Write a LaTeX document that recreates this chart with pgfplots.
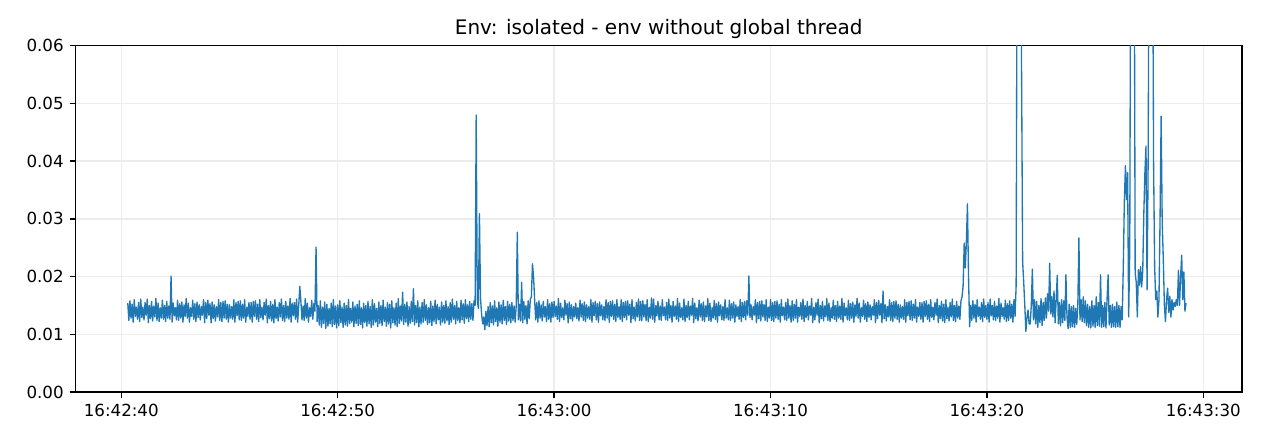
\documentclass[border=0pt]{standalone}
\usepackage{pgfplots}
\pgfplotsset{compat=1.18}
\usepackage{fontspec}
\setmainfont{DejaVu Sans}
\definecolor{mplblue}{RGB}{31,119,180}

\begin{document}
\begin{tikzpicture}
% page = 1262x442 px at 0.6pt per px
\path[use as bounding box] (-45.24pt,-30pt) rectangle (711.96pt,235.2pt);
\begin{axis}[
    anchor=south west, at={(0pt,0pt)},
    scale only axis,
    width=700pt, height=207.8pt,
    xmin=-2.12, xmax=51.79,
    ymin=0, ymax=0.06,
    xtick={0,10,20,30,40,50},
    xticklabels={16:42:40,16:42:50,16:43:00,16:43:10,16:43:20,16:43:30},
    ytick={0,0.01,0.02,0.03,0.04,0.05,0.06},
    yticklabels={0.00,0.01,0.02,0.03,0.04,0.05,0.06},
    scaled y ticks=false,
    tick align=outside,
    major tick length=3.5pt,
    every tick/.style={black, line width=0.8pt},
    axis line style={black, line width=0.8pt},
    xtick pos=bottom, ytick pos=left,
    grid=major,
    major grid style={color=black!7, line width=0.8pt},
    tick label style={font=\fontsize{10}{12}\selectfont},
    /pgf/number format/assume math mode=true,
    title={Env: isolated - env without global thread},
    title style={font=\fontsize{12}{14}\selectfont, at={(0.5,1)}, anchor=base, yshift=1pt},
]
\addplot[mplblue, line width=0.8pt, line join=round] coordinates {
(0.30,.0154)(0.35,.0124)(0.40,.0158)(0.45,.0128)(0.50,.0152)(0.55,.0121)(0.60,.0160)(0.65,.0131)(0.70,.0147)(0.75,.0126)(0.80,.0155)(0.85,.0122)(0.90,.0161)(0.95,.0129)
(1.00,.0147)(1.05,.0125)(1.10,.0155)(1.15,.0133)(1.20,.0161)(1.25,.0120)(1.30,.0150)(1.35,.0127)(1.40,.0157)(1.45,.0123)(1.50,.0149)(1.55,.0130)(1.60,.0162)(1.65,.0124)(1.70,.0154)(1.75,.0122)(1.80,.0146)(1.85,.0128)(1.90,.0159)(1.95,.0126)
(2.00,.0150)(2.05,.0122)(2.10,.0157)(2.15,.0128)(2.20,.0149)(2.25,.0126)(2.30,.0201)(2.35,.0121)(2.40,.0154)(2.45,.0132)(2.50,.0146)(2.55,.0125)(2.60,.0159)(2.65,.0124)(2.70,.0153)(2.75,.0128)(2.80,.0156)(2.85,.0121)(2.90,.0151)(2.95,.0131)
(3.00,.0162)(3.05,.0128)(3.10,.0154)(3.15,.0121)(3.20,.0146)(3.25,.0131)(3.30,.0159)(3.35,.0126)(3.40,.0153)(3.45,.0122)(3.50,.0156)(3.55,.0129)(3.60,.0151)(3.65,.0125)(3.70,.0148)(3.75,.0133)(3.80,.0160)(3.85,.0120)(3.90,.0155)(3.95,.0127)
(4.00,.0159)(4.05,.0133)(4.10,.0153)(4.15,.0120)(4.20,.0156)(4.25,.0127)(4.30,.0151)(4.35,.0123)(4.40,.0148)(4.45,.0130)(4.50,.0160)(4.55,.0124)(4.60,.0155)(4.65,.0122)(4.70,.0157)(4.75,.0128)(4.80,.0158)(4.85,.0126)(4.90,.0152)(4.95,.0121)
(5.00,.0151)(5.05,.0128)(5.10,.0148)(5.15,.0126)(5.20,.0160)(5.25,.0121)(5.30,.0155)(5.35,.0132)(5.40,.0157)(5.45,.0125)(5.50,.0158)(5.55,.0124)(5.60,.0152)(5.65,.0128)(5.70,.0160)(5.75,.0121)(5.80,.0147)(5.85,.0131)(5.90,.0155)(5.95,.0126)
(6.00,.0155)(6.05,.0121)(6.10,.0157)(6.15,.0131)(6.20,.0158)(6.25,.0126)(6.30,.0152)(6.35,.0122)(6.40,.0160)(6.45,.0129)(6.50,.0147)(6.55,.0125)(6.60,.0155)(6.65,.0133)(6.70,.0161)(6.75,.0120)(6.80,.0150)(6.85,.0127)(6.90,.0157)(6.95,.0123)
(7.00,.0152)(7.05,.0120)(7.10,.0160)(7.15,.0127)(7.20,.0147)(7.25,.0123)(7.30,.0155)(7.35,.0130)(7.40,.0161)(7.45,.0124)(7.50,.0150)(7.55,.0122)(7.60,.0157)(7.65,.0128)(7.70,.0149)(7.75,.0126)(7.80,.0162)(7.85,.0121)(7.90,.0154)(7.95,.0132)
(8.00,.0155)(8.05,.0126)(8.10,.0161)(8.15,.0121)(8.20,.0150)(8.25,.0183)(8.30,.0157)(8.35,.0125)(8.40,.0149)(8.45,.0124)(8.50,.0162)(8.55,.0128)(8.60,.0154)(8.65,.0121)(8.70,.0146)(8.75,.0131)(8.80,.0159)(8.85,.0126)(8.90,.0153)(8.95,.0140)
(9.00,.0251)(9.05,.0122)(9.10,.0150)(9.15,.0116)(9.20,.0158)(9.25,.0112)(9.30,.0147)(9.35,.0119)(9.40,.0156)(9.45,.0110)(9.50,.0152)(9.55,.0114)(9.60,.0145)(9.65,.0118)(9.70,.0154)(9.75,.0113)(9.80,.0160)(9.85,.0117)(9.90,.0149)(9.95,.0111)
(10.00,.0151)(10.05,.0115)(10.10,.0158)(10.15,.0120)(10.20,.0147)(10.25,.0112)(10.30,.0154)(10.35,.0116)(10.40,.0150)(10.45,.0114)(10.50,.0160)(10.55,.0118)(10.60,.0145)(10.65,.0121)(10.70,.0156)(10.75,.0113)(10.80,.0149)(10.85,.0119)(10.90,.0152)(10.95,.0115)
(11.00,.0158)(11.05,.0117)(11.10,.0146)(11.15,.0111)(11.20,.0154)(11.25,.0120)(11.30,.0150)(11.35,.0114)(11.40,.0157)(11.45,.0118)(11.50,.0148)(11.55,.0112)(11.60,.0160)(11.65,.0116)(11.70,.0153)(11.75,.0121)(11.80,.0145)(11.85,.0113)(11.90,.0156)(11.95,.0119)
(12.00,.0150)(12.05,.0115)(12.10,.0159)(12.15,.0122)(12.20,.0147)(12.25,.0114)(12.30,.0155)(12.35,.0118)(12.40,.0152)(12.45,.0111)(12.50,.0158)(12.55,.0120)(12.60,.0146)(12.65,.0116)(12.70,.0154)(12.75,.0113)(12.80,.0162)(12.85,.0119)(12.90,.0149)(12.95,.0123)
(13.00,.0173)(13.05,.0117)(13.10,.0152)(13.15,.0121)(13.20,.0156)(13.25,.0114)(13.30,.0148)(13.35,.0119)(13.40,.0157)(13.45,.0122)(13.50,.0179)(13.55,.0116)(13.60,.0150)(13.65,.0120)(13.70,.0158)(13.75,.0113)(13.80,.0147)(13.85,.0118)(13.90,.0155)(13.95,.0121)
(14.00,.0160)(14.05,.0124)(14.10,.0151)(14.15,.0117)(14.20,.0146)(14.25,.0120)(14.30,.0157)(14.35,.0115)(14.40,.0149)(14.45,.0122)(14.50,.0159)(14.55,.0118)(14.60,.0152)(14.65,.0125)(14.70,.0147)(14.75,.0116)(14.80,.0156)(14.85,.0121)(14.90,.0150)(14.95,.0119)
(15.00,.0158)(15.05,.0123)(15.10,.0148)(15.15,.0117)(15.20,.0155)(15.25,.0121)(15.30,.0161)(15.35,.0126)(15.40,.0150)(15.45,.0118)(15.50,.0157)(15.55,.0124)(15.60,.0146)(15.65,.0120)(15.70,.0159)(15.75,.0125)(15.80,.0153)(15.85,.0119)(15.90,.0160)(15.95,.0127)
(16.00,.0151)(16.05,.0122)(16.10,.0157)(16.15,.0126)(16.20,.0153)(16.25,.0124)(16.30,.0158)(16.35,.0150)(16.40,.0480)(16.45,.0160)(16.50,.0145)(16.55,.0309)(16.60,.0162)(16.65,.0135)(16.70,.0118)(16.75,.0130)(16.80,.0108)(16.85,.0140)(16.90,.0115)(16.95,.0148)
(17.00,.0113)(17.05,.0155)(17.10,.0120)(17.15,.0149)(17.20,.0116)(17.25,.0158)(17.30,.0122)(17.35,.0146)(17.40,.0114)(17.45,.0156)(17.50,.0121)(17.55,.0151)(17.60,.0118)(17.65,.0159)(17.70,.0124)(17.75,.0148)(17.80,.0117)(17.85,.0157)(17.90,.0123)(17.95,.0152)
(18.00,.0120)(18.05,.0155)(18.10,.0124)(18.15,.0149)(18.20,.0121)(18.25,.0150)(18.30,.0277)(18.35,.0125)(18.40,.0152)(18.45,.0123)(18.50,.0190)(18.55,.0120)(18.60,.0157)(18.65,.0126)(18.70,.0150)(18.75,.0118)(18.80,.0158)(18.85,.0127)(18.90,.0160)(18.95,.0165)
(19.00,.0222)(19.05,.0200)(19.10,.0160)(19.15,.0125)(19.20,.0155)(19.25,.0121)(19.30,.0158)(19.35,.0128)(19.40,.0151)(19.45,.0123)(19.50,.0157)(19.55,.0130)(19.60,.0148)(19.65,.0122)(19.70,.0160)(19.75,.0126)(19.80,.0153)(19.85,.0121)(19.90,.0156)(19.95,.0129)
(20.00,.0157)(20.05,.0131)(20.10,.0149)(20.15,.0126)(20.20,.0162)(20.25,.0122)(20.30,.0154)(20.35,.0129)(20.40,.0146)(20.45,.0125)(20.50,.0159)(20.55,.0133)(20.60,.0153)(20.65,.0120)(20.70,.0156)(20.75,.0127)(20.80,.0151)(20.85,.0123)(20.90,.0148)(20.95,.0130)
(21.00,.0154)(21.05,.0127)(21.10,.0146)(21.15,.0123)(21.20,.0159)(21.25,.0130)(21.30,.0153)(21.35,.0124)(21.40,.0156)(21.45,.0122)(21.50,.0151)(21.55,.0128)(21.60,.0148)(21.65,.0126)(21.70,.0160)(21.75,.0121)(21.80,.0155)(21.85,.0132)(21.90,.0157)(21.95,.0125)
(22.00,.0153)(22.05,.0121)(22.10,.0156)(22.15,.0132)(22.20,.0151)(22.25,.0125)(22.30,.0148)(22.35,.0124)(22.40,.0160)(22.45,.0128)(22.50,.0155)(22.55,.0121)(22.60,.0157)(22.65,.0131)(22.70,.0158)(22.75,.0126)(22.80,.0152)(22.85,.0122)(22.90,.0160)(22.95,.0129)
(23.00,.0148)(23.05,.0126)(23.10,.0160)(23.15,.0122)(23.20,.0155)(23.25,.0129)(23.30,.0157)(23.35,.0125)(23.40,.0158)(23.45,.0133)(23.50,.0152)(23.55,.0120)(23.60,.0160)(23.65,.0127)(23.70,.0147)(23.75,.0123)(23.80,.0155)(23.85,.0130)(23.90,.0161)(23.95,.0124)
(24.00,.0157)(24.05,.0123)(24.10,.0158)(24.15,.0130)(24.20,.0152)(24.25,.0124)(24.30,.0160)(24.35,.0122)(24.40,.0147)(24.45,.0128)(24.50,.0163)(24.55,.0126)(24.60,.0161)(24.65,.0121)(24.70,.0150)(24.75,.0132)(24.80,.0157)(24.85,.0125)(24.90,.0149)(24.95,.0124)
(25.00,.0160)(25.05,.0132)(25.10,.0147)(25.15,.0125)(25.20,.0155)(25.25,.0124)(25.30,.0161)(25.35,.0128)(25.40,.0150)(25.45,.0121)(25.50,.0157)(25.55,.0131)(25.60,.0149)(25.65,.0126)(25.70,.0162)(25.75,.0122)(25.80,.0154)(25.85,.0129)(25.90,.0146)(25.95,.0125)
(26.00,.0161)(26.05,.0122)(26.10,.0150)(26.15,.0129)(26.20,.0157)(26.25,.0125)(26.30,.0149)(26.35,.0133)(26.40,.0162)(26.45,.0120)(26.50,.0154)(26.55,.0127)(26.60,.0146)(26.65,.0123)(26.70,.0159)(26.75,.0130)(26.80,.0153)(26.85,.0124)(26.90,.0156)(26.95,.0122)
(27.00,.0149)(27.05,.0130)(27.10,.0162)(27.15,.0124)(27.20,.0154)(27.25,.0122)(27.30,.0146)(27.35,.0128)(27.40,.0159)(27.45,.0126)(27.50,.0153)(27.55,.0121)(27.60,.0156)(27.65,.0132)(27.70,.0151)(27.75,.0125)(27.80,.0148)(27.85,.0124)(27.90,.0160)(27.95,.0128)
(28.00,.0146)(28.05,.0125)(28.10,.0159)(28.15,.0124)(28.20,.0153)(28.25,.0128)(28.30,.0156)(28.35,.0121)(28.40,.0151)(28.45,.0131)(28.50,.0148)(28.55,.0126)(28.60,.0160)(28.65,.0122)(28.70,.0155)(28.75,.0129)(28.80,.0157)(28.85,.0125)(28.90,.0158)(28.95,.0133)
(29.00,.0201)(29.05,.0129)(29.10,.0151)(29.15,.0125)(29.20,.0148)(29.25,.0133)(29.30,.0160)(29.35,.0120)(29.40,.0155)(29.45,.0127)(29.50,.0157)(29.55,.0123)(29.60,.0158)(29.65,.0130)(29.70,.0152)(29.75,.0124)(29.80,.0160)(29.85,.0122)(29.90,.0147)(29.95,.0128)
(30.00,.0160)(30.05,.0124)(30.10,.0155)(30.15,.0122)(30.20,.0157)(30.25,.0128)(30.30,.0158)(30.35,.0126)(30.40,.0152)(30.45,.0121)(30.50,.0160)(30.55,.0132)(30.60,.0147)(30.65,.0125)(30.70,.0155)(30.75,.0124)(30.80,.0161)(30.85,.0128)(30.90,.0150)(30.95,.0121)
(31.00,.0158)(31.05,.0124)(31.10,.0152)(31.15,.0128)(31.20,.0160)(31.25,.0121)(31.30,.0147)(31.35,.0131)(31.40,.0155)(31.45,.0126)(31.50,.0161)(31.55,.0122)(31.60,.0150)(31.65,.0129)(31.70,.0157)(31.75,.0125)(31.80,.0149)(31.85,.0133)(31.90,.0162)(31.95,.0120)
(32.00,.0147)(32.05,.0125)(32.10,.0155)(32.15,.0133)(32.20,.0161)(32.25,.0120)(32.30,.0150)(32.35,.0127)(32.40,.0157)(32.45,.0123)(32.50,.0149)(32.55,.0130)(32.60,.0162)(32.65,.0124)(32.70,.0154)(32.75,.0122)(32.80,.0146)(32.85,.0128)(32.90,.0159)(32.95,.0126)
(33.00,.0150)(33.05,.0122)(33.10,.0157)(33.15,.0128)(33.20,.0149)(33.25,.0126)(33.30,.0162)(33.35,.0121)(33.40,.0154)(33.45,.0132)(33.50,.0146)(33.55,.0125)(33.60,.0159)(33.65,.0124)(33.70,.0153)(33.75,.0128)(33.80,.0156)(33.85,.0121)(33.90,.0151)(33.95,.0131)
(34.00,.0162)(34.05,.0128)(34.10,.0154)(34.15,.0121)(34.20,.0146)(34.25,.0131)(34.30,.0159)(34.35,.0126)(34.40,.0153)(34.45,.0122)(34.50,.0156)(34.55,.0129)(34.60,.0151)(34.65,.0125)(34.70,.0148)(34.75,.0133)(34.80,.0160)(34.85,.0120)(34.90,.0155)(34.95,.0127)
(35.00,.0159)(35.05,.0133)(35.10,.0153)(35.15,.0120)(35.20,.0175)(35.25,.0127)(35.30,.0151)(35.35,.0123)(35.40,.0148)(35.45,.0130)(35.50,.0160)(35.55,.0124)(35.60,.0155)(35.65,.0122)(35.70,.0157)(35.75,.0128)(35.80,.0158)(35.85,.0126)(35.90,.0152)(35.95,.0121)
(36.00,.0151)(36.05,.0128)(36.10,.0148)(36.15,.0126)(36.20,.0160)(36.25,.0121)(36.30,.0155)(36.35,.0132)(36.40,.0157)(36.45,.0125)(36.50,.0158)(36.55,.0124)(36.60,.0152)(36.65,.0128)(36.70,.0160)(36.75,.0121)(36.80,.0147)(36.85,.0131)(36.90,.0155)(36.95,.0126)
(37.00,.0155)(37.05,.0121)(37.10,.0157)(37.15,.0131)(37.20,.0158)(37.25,.0126)(37.30,.0152)(37.35,.0122)(37.40,.0160)(37.45,.0129)(37.50,.0147)(37.55,.0125)(37.60,.0155)(37.65,.0133)(37.70,.0161)(37.75,.0120)(37.80,.0150)(37.85,.0127)(37.90,.0157)(37.95,.0123)
(38.00,.0152)(38.05,.0120)(38.10,.0160)(38.15,.0127)(38.20,.0147)(38.25,.0123)(38.30,.0155)(38.35,.0130)(38.40,.0161)(38.45,.0124)(38.50,.0150)(38.55,.0122)(38.60,.0157)(38.65,.0128)(38.70,.0149)(38.75,.0126)(38.80,.0158)(38.85,.0165)(38.90,.0184)(38.95,.0258)
(39.00,.0215)(39.05,.0260)(39.10,.0326)(39.15,.0200)(39.20,.0113)(39.25,.0150)(39.30,.0124)(39.35,.0158)(39.40,.0128)(39.45,.0152)(39.50,.0121)(39.55,.0160)(39.60,.0131)(39.65,.0147)(39.70,.0126)(39.75,.0155)(39.80,.0122)(39.85,.0161)(39.90,.0129)(39.95,.0150)
(40.00,.0126)(40.05,.0155)(40.10,.0121)(40.15,.0161)(40.20,.0132)(40.25,.0150)(40.30,.0125)(40.35,.0157)(40.40,.0124)(40.45,.0149)(40.50,.0128)(40.55,.0162)(40.60,.0121)(40.65,.0154)(40.70,.0131)(40.75,.0146)(40.80,.0126)(40.85,.0159)(40.90,.0122)(40.95,.0153)
(41.00,.0124)(41.05,.0158)(41.10,.0128)(41.15,.0152)(41.20,.0121)(41.25,.0160)(41.30,.0131)(41.35,.0185)(41.40,.0900)(41.45,.0900)(41.50,.0900)(41.55,.0900)(41.65,.0226)(41.70,.0190)(41.75,.0150)(41.80,.0105)(41.85,.0130)(41.90,.0142)(41.95,.0118)
(42.00,.0118)(42.05,.0150)(42.10,.0213)(42.15,.0125)(42.20,.0160)(42.25,.0118)(42.30,.0157)(42.35,.0112)(42.40,.0150)(42.45,.0120)(42.50,.0162)(42.55,.0115)(42.60,.0155)(42.65,.0124)(42.70,.0163)(42.75,.0128)(42.80,.0170)(42.85,.0140)(42.90,.0223)(42.95,.0135)
(43.00,.0165)(43.05,.0130)(43.10,.0175)(43.15,.0120)(43.20,.0160)(43.25,.0202)(43.30,.0118)(43.35,.0155)(43.40,.0115)(43.45,.0160)(43.50,.0120)(43.55,.0158)(43.60,.0124)(43.65,.0203)(43.70,.0130)(43.75,.0110)(43.80,.0152)(43.85,.0112)(43.90,.0148)(43.95,.0113)
(44.00,.0150)(44.05,.0112)(44.10,.0145)(44.15,.0117)(44.20,.0150)(44.25,.0267)(44.30,.0125)(44.35,.0160)(44.40,.0122)(44.45,.0165)(44.50,.0120)(44.55,.0158)(44.60,.0115)(44.65,.0152)(44.70,.0112)(44.75,.0148)(44.80,.0111)(44.85,.0158)(44.90,.0114)(44.95,.0150)
(45.00,.0112)(45.05,.0165)(45.10,.0115)(45.15,.0155)(45.20,.0114)(45.25,.0203)(45.30,.0112)(45.35,.0150)(45.40,.0113)(45.45,.0155)(45.50,.0111)(45.55,.0160)(45.60,.0203)(45.65,.0116)(45.70,.0150)(45.75,.0112)(45.80,.0152)(45.85,.0113)(45.90,.0148)(45.95,.0112)
(46.00,.0156)(46.05,.0113)(46.10,.0150)(46.15,.0112)(46.20,.0148)(46.25,.0125)(46.30,.0215)(46.35,.0330)(46.40,.0392)(46.45,.0333)(46.50,.0380)(46.55,.0130)(46.60,.0250)(46.65,.0900)(46.70,.0900)(46.75,.0900)(46.80,.0900)(46.85,.0206)(46.90,.0190)(46.95,.0130)
(47.00,.0212)(47.05,.0185)(47.10,.0217)(47.15,.0182)(47.20,.0210)(47.25,.0310)(47.30,.0380)(47.35,.0426)(47.40,.0177)(47.45,.0400)(47.50,.0900)(47.55,.0900)(47.60,.0900)(47.65,.0900)(47.70,.0400)(47.75,.0217)(47.80,.0160)(47.85,.0175)(47.90,.0130)(47.95,.0160)
(48.00,.0300)(48.05,.0478)(48.10,.0293)(48.15,.0230)(48.20,.0150)(48.25,.0122)(48.30,.0160)(48.35,.0180)(48.40,.0138)(48.45,.0166)(48.50,.0130)(48.55,.0160)(48.60,.0142)(48.65,.0155)(48.70,.0148)(48.75,.0160)(48.80,.0150)(48.85,.0211)(48.90,.0150)(48.95,.0200)
(49.00,.0237)(49.05,.0160)(49.10,.0208)(49.15,.0140)(49.20,.0154)
};
\end{axis}
\end{tikzpicture}
\end{document}
